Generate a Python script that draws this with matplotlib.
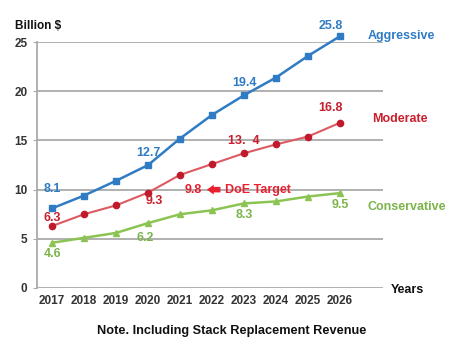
import numpy as np
import matplotlib.pyplot as plt

### Data
years = np.arange(2017, 2027)
aggressive = [8.1, 9.4, 10.9, 12.5, 15.2, 17.6, 19.6, 21.4, 23.6, 25.6]
moderate = [6.3, 7.5, 8.4, 9.7, 11.5, 12.6, 13.7, 14.6, 15.4, 16.8]
conservative = [4.6, 5.1, 5.6, 6.6, 7.5, 7.9, 8.6, 8.8, 9.3, 9.65]

agg_labels = [(2017, 10.05, '8.1'), (2020, 13.7, '12.7'),
              (2023, 20.8, '19.4'), (2025.7, 26.6, '25.8')]
mod_labels = [(2017, 7.1, '6.3'), (2020.2, 8.85, '9.3'),
              (2023, 14.9, '13.  4'), (2025.7, 18.3, '16.8')]
con_labels = [(2017, 3.45, '4.6'), (2019.9, 5.1, '6.2'),
              (2023, 7.4, '8.3'), (2026, 8.4, '9.5')]
doe_target = 9.8

### Colours
cblue = '#2f7cc4'
cred_line = '#dc5a62'
cred_mark = '#c01a2c'
cred_text = '#c8202e'
cdoe = '#e82030'
cgreen = '#8cc454'
cgreen_text = '#7cb44c'
grid = '#aaaaaa'

plt.rcParams['font.family'] = ['Liberation Sans', 'DejaVu Sans']

fig = plt.figure(figsize=(4.63, 3.51), dpi=100)
ax = fig.add_axes([0.080, 0.1795, 0.747, 0.7005])

ax.plot(years, aggressive, color=cblue, lw=1.8, marker='s', ms=4.5, zorder=3,
        clip_on=False)
ax.plot(years, moderate, color=cred_line, lw=1.5, marker='o', ms=4.5,
        mfc=cred_mark, mec=cred_mark, zorder=3, clip_on=False)
ax.plot(years, conservative, color=cgreen, lw=1.8, marker='^', ms=5, zorder=3,
        clip_on=False)

for x, y, t in agg_labels:
    ax.text(x, y, t, color=cblue, fontsize=9, fontweight='bold',
            ha='center', va='center', clip_on=False)
for x, y, t in mod_labels:
    ax.text(x, y, t, color=cred_text, fontsize=9, fontweight='bold',
            ha='center', va='center', clip_on=False)
for x, y, t in con_labels:
    ax.text(x, y, t, color=cgreen_text, fontsize=9, fontweight='bold',
            ha='center', va='center', clip_on=False)

### DoE target annotation
ax.text(2021.4, doe_target + 0.2, '9.8', color=cdoe, fontsize=9, fontweight='bold',
        ha='center', va='center')
ax.annotate('', xy=(2021.75, doe_target + 0.2), xytext=(2022.35, doe_target + 0.2),
            arrowprops=dict(arrowstyle='simple,head_width=0.7,head_length=0.5,tail_width=0.4',
                            color=cdoe, lw=0))
ax.text(2022.4, doe_target + 0.2, 'DoE Target', color=cdoe, fontsize=9,
        fontweight='bold', ha='left', va='center')

### Series names
ax.text(0.955, 1.024, 'Aggressive', transform=ax.transAxes, color=cblue,
        fontsize=9, fontweight='bold', ha='left', va='center', clip_on=False)
ax.text(0.968, 0.687, 'Moderate', transform=ax.transAxes, color=cred_text,
        fontsize=9, fontweight='bold', ha='left', va='center')
ax.text(0.955, 0.33, 'Conservative', transform=ax.transAxes, color=cgreen_text,
        fontsize=9, fontweight='bold', ha='left', va='center')

### Axes styling
ax.set_xlim(2016.53, 2027.34)
ax.set_ylim(0, 25)
ax.set_yticks(np.arange(0, 26, 5))
ax.set_xticks(years)
ax.yaxis.grid(True, color=grid, lw=1.3)
ax.set_axisbelow(True)
for s in ['top', 'right', 'bottom']:
    ax.spines[s].set_visible(False)
ax.spines['left'].set_color(grid)
ax.spines['left'].set_linewidth(1.3)
ax.tick_params(axis='y', length=3, color=grid, labelsize=8.5, labelcolor='#333333', pad=4)
ax.tick_params(axis='x', length=0, labelsize=8.5, labelcolor='#333333', pad=5)
for lab in ax.get_xticklabels() + ax.get_yticklabels():
    lab.set_fontweight('bold')

fig.text(0.032, 0.926, 'Billion $', fontsize=8.5, fontweight='bold', color='#111111',
         ha='left', va='center')
fig.text(0.881, 0.174, 'Years', fontsize=9, fontweight='bold', color='#111111',
         ha='center', va='center')
fig.text(0.5, 0.057, 'Note. Including Stack Replacement Revenue', fontsize=9.2,
         fontweight='bold', color='#111111', ha='center', va='center')

plt.savefig('out.png', dpi=100)
